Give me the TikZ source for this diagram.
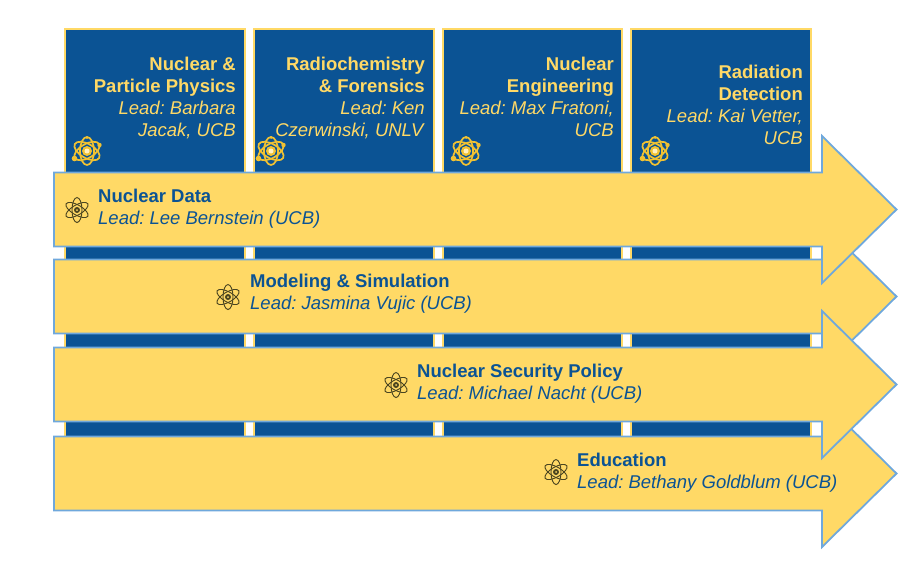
\documentclass[tikz,border=0pt]{standalone}
\usepackage{fontspec}
\setmainfont{Liberation Sans}
\definecolor{navy}{HTML}{0B5394}
\definecolor{gold}{HTML}{FFD966}
\definecolor{edge}{HTML}{6FA8DC}
\definecolor{atomdark}{HTML}{4A4520}
\definecolor{atomgold}{HTML}{F1C232}
\tikzset{
	column/.style={draw=gold, fill=navy, line width=1.5pt},
	band/.style={draw=edge, fill=gold, line width=1.8pt, line join=miter},
	boxtext/.style={anchor=north east, align=right, inner sep=0pt, text=gold, font=\fontsize{18.5}{22}\selectfont\frenchspacing},
	bandtext/.style={anchor=west, align=left, inner sep=0pt, text=navy, font=\fontsize{18.5}{22}\selectfont\frenchspacing},
	pics/atomgold/.style={code={
		\foreach \a in {30,90,150} {
			\draw[atomgold, line width=1.7pt, rotate=\a] (0,0) ellipse (14 and 7);
		}
		\fill[atomgold] (0,0) circle (5);
		\fill[white!60!gold] (0,0) circle (2.5);
		\fill[atomgold] (-12.5,7.5) circle (2.8);
		\fill[atomgold] (12.5,-6) circle (2.2);
		\fill[atomgold] (0,-13.5) circle (1.5);
	}},
	pics/atomdark/.style={code={
		\foreach \a in {30,90,150} {
			\draw[atomdark, line width=0.9pt, rotate=\a] (0,0) ellipse (12.5 and 5);
		}
		\fill[atomdark] (0,0) circle (3);
		\fill[gold] (0,0) circle (1);
	}}
}
\begin{document}
\begin{tikzpicture}[x=1pt, y=-1pt]
	\useasboundingbox (0,0) rectangle (918,562);

	% columns behind the arrows
	\foreach \l/\r in {65/245, 254/434, 443/622, 631/811} {
		\draw[column] (\l,29) rectangle (\r,490);
	}

	% lower arrows first so the upper heads sit on top
	\foreach \t in {436.5, 259.5, 347.5, 172.5} {
		\draw[band] (54,\t) -- (822,\t) -- (822,\t-36.5) -- (896.5,\t+37)
			-- (822,\t+110.5) -- (822,\t+74) -- (54,\t+74) -- cycle;
	}

	\node[boxtext] (physics) at (236,57) {\textbf{Nuclear \&}\\\textbf{Particle Physics}\\\textit{Lead: Barbara}\\\textit{Jacak, UCB}};
	\node[boxtext] (chem) at (425,57) {\textbf{Radiochemistry}\\\textbf{\& Forensics}\\\textit{Lead: Ken}\\\textit{Czerwinski, UNLV}};
	\node[boxtext] (engineering) at (614,57) {\textbf{Nuclear}\\\textbf{Engineering}\\\textit{Lead: Max Fratoni,}\\\textit{UCB}};
	\node[boxtext] (detection) at (803,65) {\textbf{Radiation}\\\textbf{Detection}\\\textit{Lead: Kai Vetter,}\\\textit{UCB}};

	\pic at (87,151) {atomgold};
	\pic at (271,151) {atomgold};
	\pic at (466,151) {atomgold};
	\pic at (655,151) {atomgold};

	\node[bandtext] (data) at (98,209) {\textbf{Nuclear Data}\\\textit{Lead: Lee Bernstein (UCB)}};
	\node[bandtext] (modeling) at (250,294) {\textbf{Modeling \& Simulation}\\\textit{Lead: Jasmina Vujic (UCB)}};
	\node[bandtext] (policy) at (417,384) {\textbf{Nuclear Security Policy}\\\textit{Lead: Michael Nacht (UCB)}};
	\node[bandtext] (education) at (577,473) {\textbf{Education}\\\textit{Lead: Bethany Goldblum (UCB)}};

	\pic at (77,210) {atomdark};
	\pic at (228,297) {atomdark};
	\pic at (396,385) {atomdark};
	\pic at (556,472) {atomdark};
\end{tikzpicture}
\end{document}
